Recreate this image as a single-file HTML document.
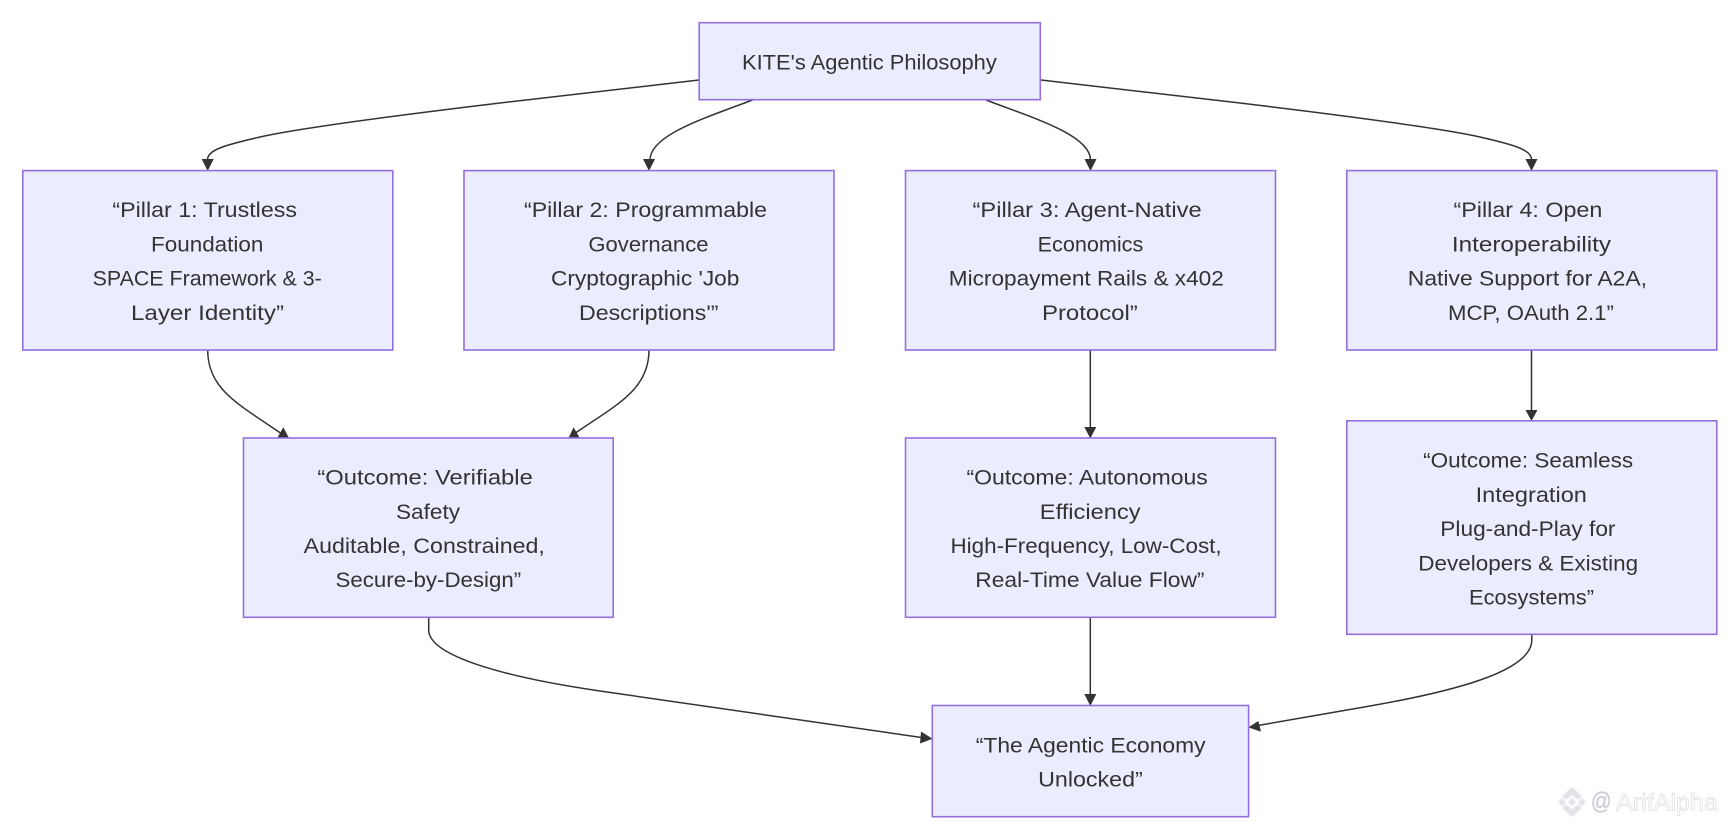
<!DOCTYPE html>
<html><head><meta charset="utf-8"><style>
html,body{margin:0;padding:0;background:#fff;width:1728px;height:828px;overflow:hidden}
svg{display:block}
text{font-family:"Liberation Sans",sans-serif;font-size:21.5px;fill:#333}
.b{fill:#ececff;stroke:#9370db;stroke-width:1.6}
.e{fill:none;stroke:#333;stroke-width:1.5}
.h{fill:#333;stroke:none}
</style></head><body>
<svg width="1728" height="828" viewBox="0 0 1728 828" xmlns="http://www.w3.org/2000/svg" style="filter:blur(.35px)">
<path class="e" d="M699,80 L500,103 C400,115 300,128 260,137 C225,145 207,150 207.5,160"/>
<path class="e" d="M752.6,100 C705,118 650,135 650,160"/>
<path class="e" d="M986,100 C1033,118 1090.5,135 1090.5,160"/>
<path class="e" d="M1041,80 L1240,103 C1340,115 1440,128 1480,137 C1515,145 1532,150 1531.5,160"/>
<path class="e" d="M207.7,350 C207.7,390 240,405 282,434"/>
<path class="e" d="M649,350 C649,390 616,405 574,434"/>
<path class="e" d="M1090.3,350 V430"/>
<path class="e" d="M1531.5,350 V412"/>
<path class="e" d="M428.7,617 L428.7,630 C428.7,655 500,676.5 600,691 L925,738"/>
<path class="e" d="M1090.3,617 V697"/>
<path class="e" d="M1531.8,634 L1531.8,640 C1531.8,672 1450,692 1370,706 L1255,726"/>
<polygon class="h" points="201.7,159 213.7,159 207.7,171"/>
<polygon class="h" points="643,159 655,159 649,171"/>
<polygon class="h" points="1084.5,159 1096.5,159 1090.5,171"/>
<polygon class="h" points="1525.5,159 1537.5,159 1531.5,171"/>
<polygon class="h" points="276.7,439 289.5,439 283.3,427.3"/>
<polygon class="h" points="568,439 580.3,439 573.6,427.3"/>
<polygon class="h" points="1084.3,427 1096.3,427 1090.3,438.5"/>
<polygon class="h" points="1525.5,410 1537.5,410 1531.5,421"/>
<polygon class="h" points="1084.3,694 1096.3,694 1090.3,706"/>
<polygon class="h" points="921,731.5 920,743.5 932.5,738.7"/>
<polygon class="h" points="1258.3,721 1261,731.7 1248.4,727.4"/>
<rect class="b" x="699.2" y="22.7" width="341.1" height="77"/>
<rect class="b" x="22.8" y="170.6" width="370" height="179.4"/>
<rect class="b" x="464" y="170.6" width="370" height="179.4"/>
<rect class="b" x="905.5" y="170.6" width="370" height="179.4"/>
<rect class="b" x="1346.8" y="170.6" width="370" height="179.4"/>
<rect class="b" x="243.5" y="438" width="369.7" height="179.3"/>
<rect class="b" x="905.5" y="438" width="370" height="179.3"/>
<rect class="b" x="1346.8" y="420.8" width="370" height="213.5"/>
<rect class="b" x="932.3" y="705.5" width="316.3" height="111.2"/>

<text x="742" y="69.3" textLength="254.8" lengthAdjust="spacingAndGlyphs">KITE's Agentic Philosophy</text>

<text x="112.4" y="217" textLength="184.6" lengthAdjust="spacingAndGlyphs">“Pillar 1: Trustless</text>
<text x="151" y="251.5" textLength="112.4" lengthAdjust="spacingAndGlyphs">Foundation</text>
<text x="92.6" y="285.7" textLength="229.2" lengthAdjust="spacingAndGlyphs">SPACE Framework &amp; 3-</text>
<text x="131" y="319.8" textLength="153" lengthAdjust="spacingAndGlyphs">Layer Identity”</text>

<text x="524" y="217" textLength="243" lengthAdjust="spacingAndGlyphs">“Pillar 2: Programmable</text>
<text x="588.4" y="251.5" textLength="120.1" lengthAdjust="spacingAndGlyphs">Governance</text>
<text x="551" y="285.7" textLength="188.4" lengthAdjust="spacingAndGlyphs">Cryptographic 'Job</text>
<text x="579" y="319.8" textLength="139.5" lengthAdjust="spacingAndGlyphs">Descriptions'”</text>

<text x="972.5" y="217" textLength="229.2" lengthAdjust="spacingAndGlyphs">“Pillar 3: Agent-Native</text>
<text x="1037.6" y="251.5" textLength="105.7" lengthAdjust="spacingAndGlyphs">Economics</text>
<text x="948.8" y="285.7" textLength="275" lengthAdjust="spacingAndGlyphs">Micropayment Rails &amp; x402</text>
<text x="1042" y="319.8" textLength="95.8" lengthAdjust="spacingAndGlyphs">Protocol”</text>

<text x="1453.5" y="217" textLength="148.8" lengthAdjust="spacingAndGlyphs">“Pillar 4: Open</text>
<text x="1451.9" y="251.5" textLength="159.1" lengthAdjust="spacingAndGlyphs">Interoperability</text>
<text x="1407.8" y="285.7" textLength="239.2" lengthAdjust="spacingAndGlyphs">Native Support for A2A,</text>
<text x="1448" y="319.8" textLength="165.9" lengthAdjust="spacingAndGlyphs">MCP, OAuth 2.1”</text>

<text x="317.4" y="484.7" textLength="215.4" lengthAdjust="spacingAndGlyphs">“Outcome: Verifiable</text>
<text x="396" y="519" textLength="64" lengthAdjust="spacingAndGlyphs">Safety</text>
<text x="303.6" y="553" textLength="241.3" lengthAdjust="spacingAndGlyphs">Auditable, Constrained,</text>
<text x="335.5" y="587" textLength="185.7" lengthAdjust="spacingAndGlyphs">Secure-by-Design”</text>

<text x="966.5" y="484.7" textLength="241.3" lengthAdjust="spacingAndGlyphs">“Outcome: Autonomous</text>
<text x="1039.8" y="519" textLength="100.8" lengthAdjust="spacingAndGlyphs">Efficiency</text>
<text x="950.5" y="553" textLength="271.1" lengthAdjust="spacingAndGlyphs">High-Frequency, Low-Cost,</text>
<text x="975.3" y="587" textLength="229.2" lengthAdjust="spacingAndGlyphs">Real-Time Value Flow”</text>

<text x="1423.2" y="467.7" textLength="209.9" lengthAdjust="spacingAndGlyphs">“Outcome: Seamless</text>
<text x="1475.6" y="502" textLength="111.3" lengthAdjust="spacingAndGlyphs">Integration</text>
<text x="1440.3" y="536" textLength="175.2" lengthAdjust="spacingAndGlyphs">Plug-and-Play for</text>
<text x="1418.3" y="570.3" textLength="219.8" lengthAdjust="spacingAndGlyphs">Developers &amp; Existing</text>
<text x="1469" y="604.3" textLength="125" lengthAdjust="spacingAndGlyphs">Ecosystems”</text>

<text x="975.8" y="752.3" textLength="229.8" lengthAdjust="spacingAndGlyphs">“The Agentic Economy</text>
<text x="1038.1" y="786.3" textLength="104.7" lengthAdjust="spacingAndGlyphs">Unlocked”</text>

<g fill="#e2e2e8" stroke="none" style="filter:blur(.6px)">
<polygon points="1572,787 1582,796 1578,800 1572,794.5 1566,800 1562,796"/>
<polygon points="1572,817 1582,808 1578,804 1572,809.5 1566,804 1562,808"/>
<polygon points="1572,798 1576,802 1572,806 1568,802"/>
<polygon points="1562,798 1566,802 1562,806 1558,802"/>
<polygon points="1582,798 1586,802 1582,806 1578,802"/>
</g>
<text x="1590.7" y="809" textLength="21" lengthAdjust="spacingAndGlyphs" style="font-size:24px;fill:#d0d0d8;stroke:#d0d0d8;stroke-width:.5">@</text>
<text x="1616" y="810.7" textLength="102" lengthAdjust="spacingAndGlyphs" style="font-size:24px;fill:#fff;stroke:#dcdce2;stroke-width:.7">ArifAlpha</text>
</svg>
</body></html>
